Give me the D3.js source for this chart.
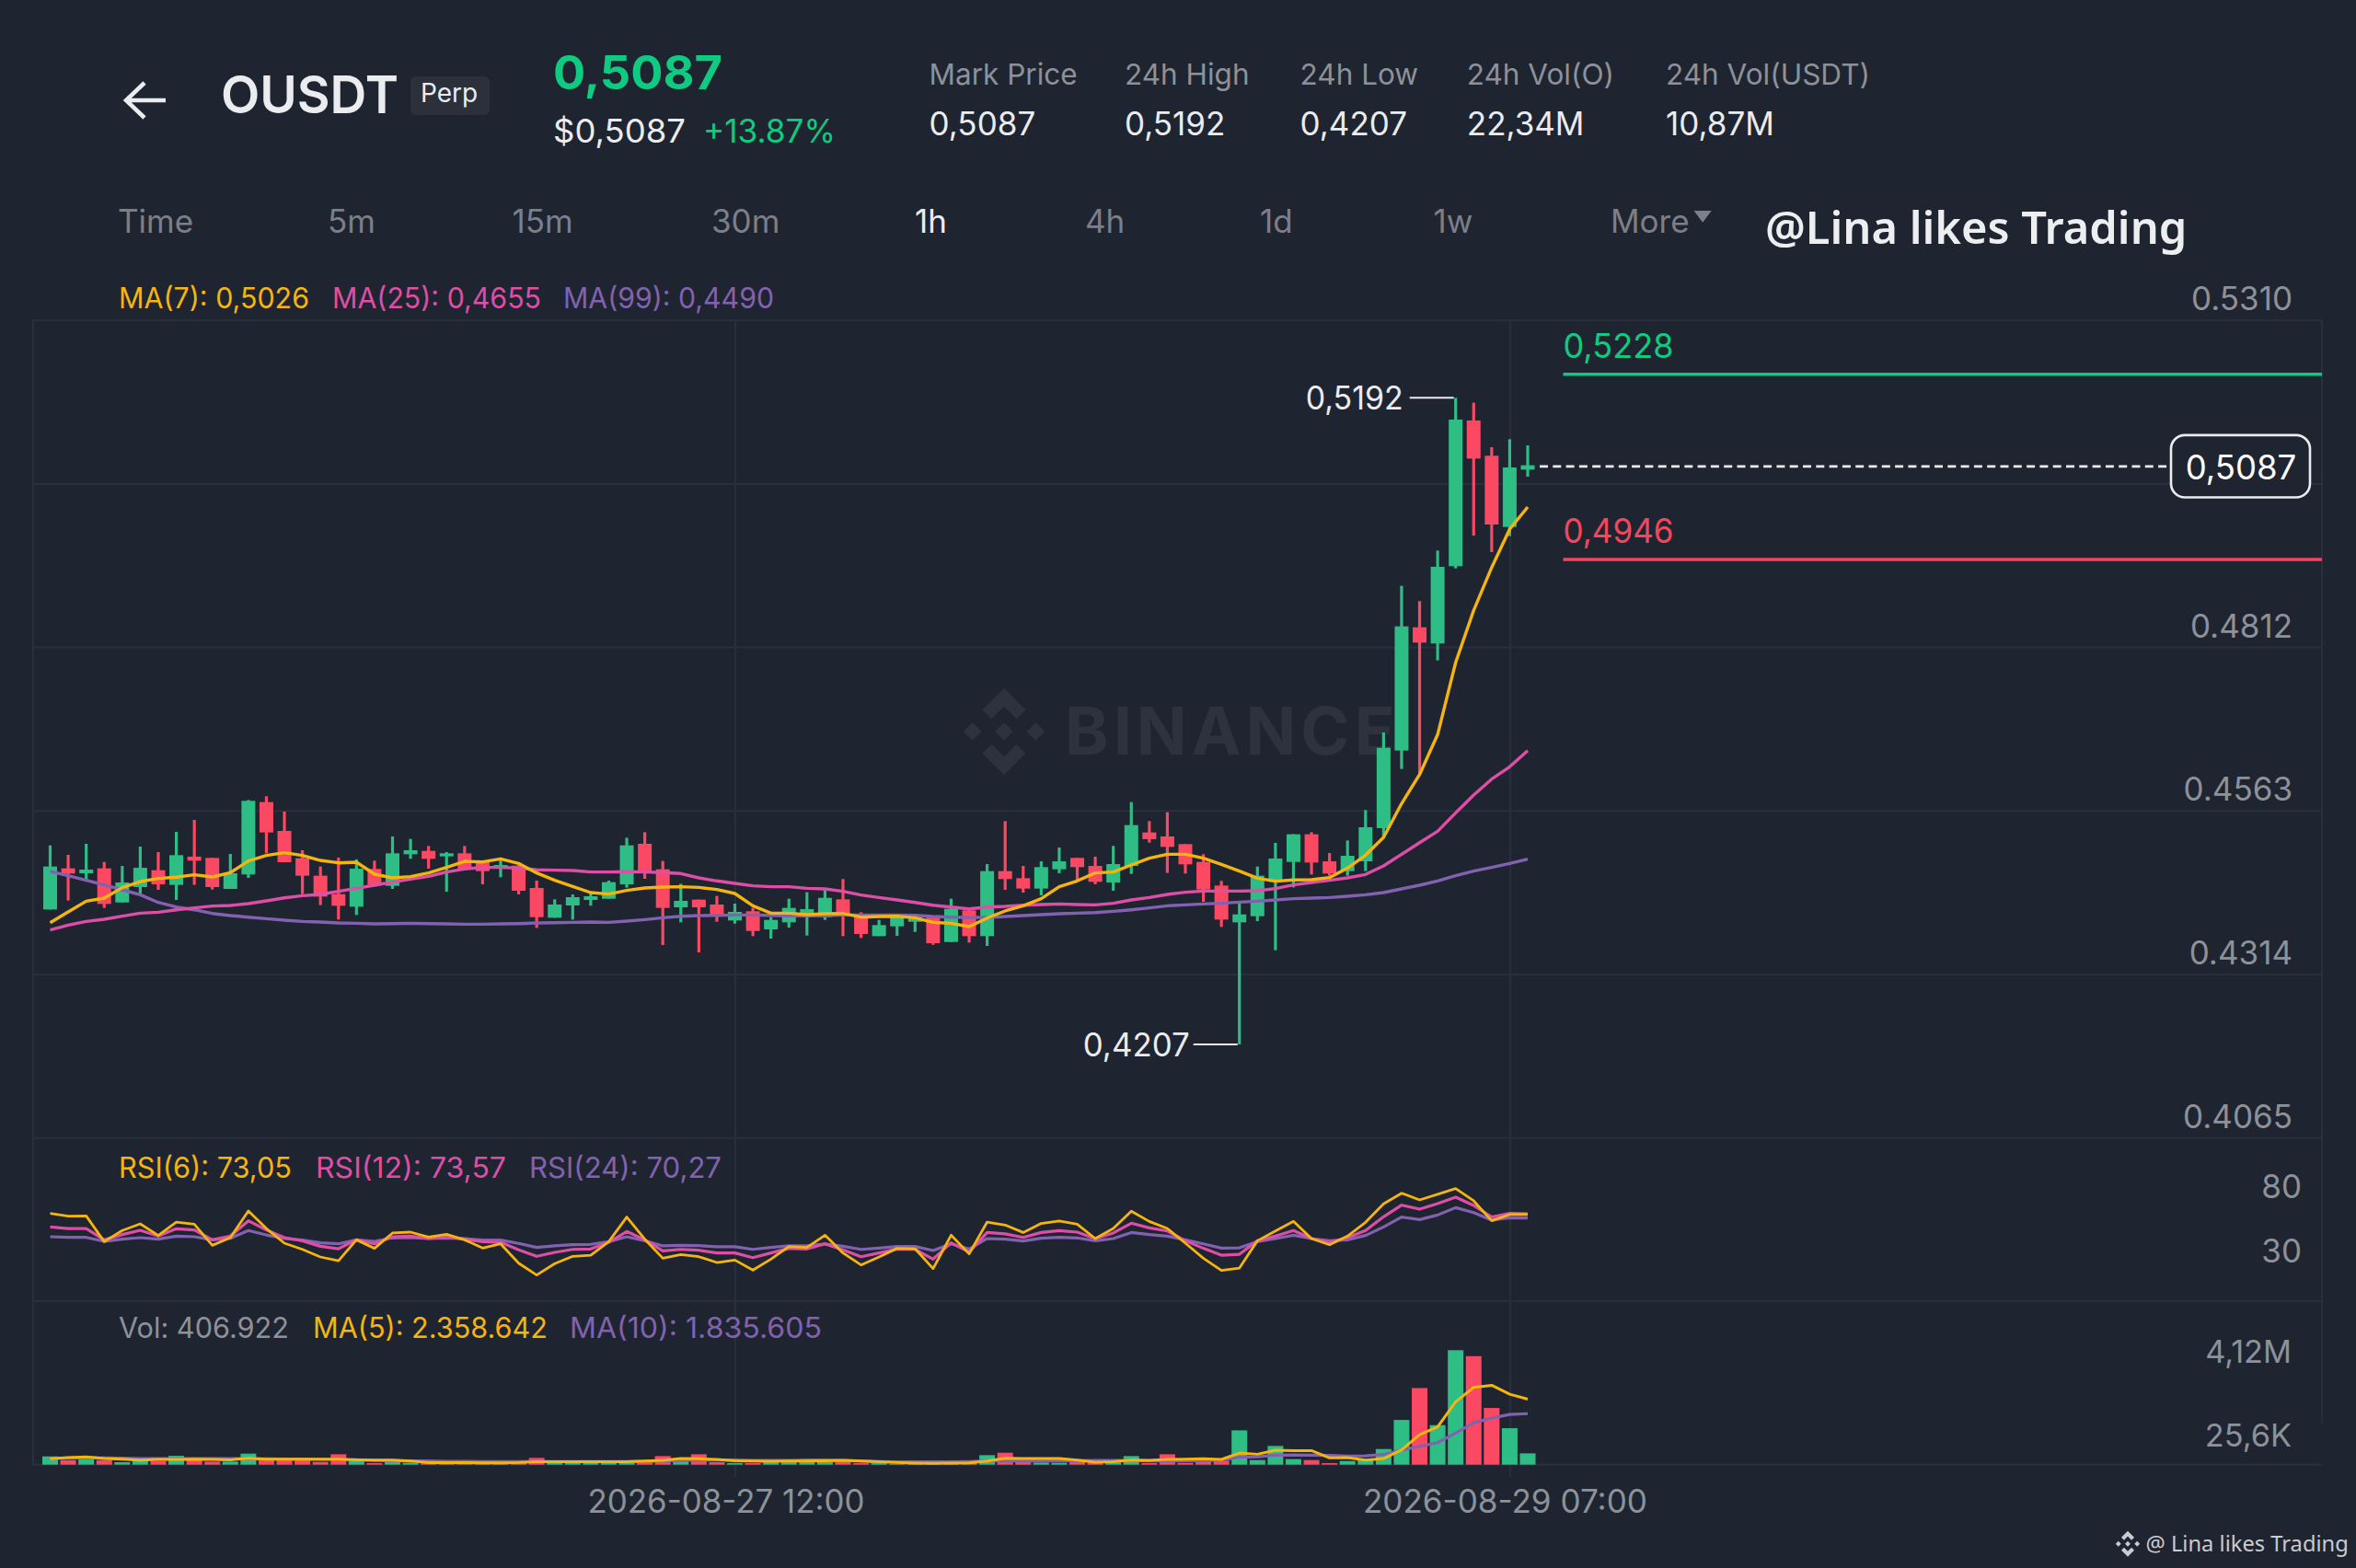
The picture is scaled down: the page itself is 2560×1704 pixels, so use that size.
<!DOCTYPE html>
<html>
<head>
<meta charset="utf-8">
<title>OUSDT Perp</title>
<script src="https://cdn.jsdelivr.net/npm/d3@7"></script>
<style>
  html, body { margin: 0; background: #1f2530; }
  svg { display: block; font-family: Inter, "Noto Sans", sans-serif; }
</style>
</head>
<body>
<div id="chart"></div>
<script>
/* candles, oldest first */
const opens = [0.44123,0.44749,0.44674,0.44749,0.44230,0.44464,0.44721,0.44497,0.44927,0.44908,0.44436,0.44656,0.45758,0.45319,0.44903,0.44637,0.44357,0.44165,0.44740,0.44483,0.44964,0.45015,0.44931,0.44978,0.44870,0.44777,0.44790,0.44450,0.43997,0.44184,0.44268,0.44287,0.44506,0.45123,0.44735,0.44156,0.44273,0.44198,0.43955,0.44095,0.43820,0.43927,0.44016,0.44006,0.44277,0.44030,0.43717,0.43866,0.43936,0.44006,0.43628,0.44109,0.43717,0.44707,0.44599,0.44441,0.44735,0.44908,0.44786,0.44534,0.44786,0.45296,0.45235,0.45118,0.44847,0.44487,0.43927,0.44020,0.44544,0.44847,0.45268,0.44856,0.44707,0.44856,0.45361,0.46543,0.48420,0.48173,0.49350,0.51569,0.51032,0.49948,0.50821];
const highs = [0.45099,0.44955,0.45123,0.44847,0.44786,0.45080,0.44997,0.45305,0.45487,0.44908,0.44969,0.45791,0.45847,0.45613,0.45025,0.44777,0.44913,0.44885,0.44866,0.45235,0.45197,0.45090,0.44997,0.45090,0.44870,0.44870,0.44800,0.44562,0.44277,0.44352,0.44380,0.44562,0.45216,0.45300,0.44861,0.44515,0.44273,0.44329,0.44212,0.44147,0.44006,0.44287,0.44385,0.44413,0.44586,0.44081,0.43964,0.44030,0.44053,0.44006,0.44287,0.44123,0.44814,0.45468,0.44786,0.44856,0.45067,0.44908,0.44927,0.45090,0.45758,0.45468,0.45604,0.45118,0.44964,0.44558,0.44217,0.44777,0.45137,0.45268,0.45300,0.44983,0.45174,0.45637,0.46818,0.49051,0.48818,0.49588,0.51914,0.51840,0.51162,0.51284,0.51190];
const lows = [0.44123,0.44259,0.44576,0.44147,0.44230,0.44333,0.44422,0.44268,0.44497,0.44427,0.44436,0.44604,0.44978,0.44842,0.44357,0.44189,0.43969,0.44039,0.44497,0.44436,0.44894,0.44744,0.44394,0.44744,0.44506,0.44614,0.44352,0.43843,0.43997,0.43969,0.44180,0.44287,0.44455,0.44590,0.43581,0.43927,0.43469,0.43936,0.43908,0.43717,0.43680,0.43848,0.43726,0.43964,0.43717,0.43689,0.43717,0.43721,0.43782,0.43586,0.43628,0.43619,0.43567,0.44422,0.44380,0.44338,0.44674,0.44567,0.44506,0.44408,0.44665,0.45141,0.44679,0.44670,0.44240,0.43857,0.42068,0.43946,0.43502,0.44459,0.44656,0.44637,0.44637,0.44707,0.45221,0.46262,0.46202,0.47916,0.49317,0.49817,0.49565,0.49808,0.50714];
const closes = [0.44777,0.44670,0.44730,0.44207,0.44534,0.44758,0.44506,0.44950,0.44866,0.44464,0.44674,0.45777,0.45296,0.44842,0.44637,0.44319,0.44179,0.44744,0.44497,0.44978,0.45025,0.44894,0.44978,0.44744,0.44707,0.44800,0.44408,0.44006,0.44198,0.44310,0.44324,0.44539,0.45099,0.44684,0.44147,0.44254,0.44156,0.44016,0.44086,0.43796,0.43964,0.44147,0.44128,0.44300,0.44025,0.43750,0.43885,0.44006,0.44006,0.43609,0.44133,0.43717,0.44707,0.44586,0.44441,0.44768,0.44856,0.44768,0.44544,0.44814,0.45408,0.45193,0.45076,0.44810,0.44427,0.43969,0.44048,0.44637,0.44899,0.45268,0.44838,0.44670,0.44940,0.45375,0.46585,0.48434,0.48187,0.49341,0.51583,0.50989,0.49985,0.50854,0.50887];

const ma7 = [0.43922,0.44086,0.44249,0.44296,0.44455,0.44548,0.44595,0.44614,0.44651,0.44618,0.44684,0.44861,0.44945,0.44987,0.44945,0.44870,0.44833,0.44842,0.44660,0.44604,0.44623,0.44679,0.44763,0.44856,0.44847,0.44894,0.44824,0.44679,0.44567,0.44473,0.44380,0.44357,0.44413,0.44450,0.44464,0.44469,0.44459,0.44427,0.44366,0.44179,0.44067,0.44067,0.44044,0.44058,0.44062,0.44006,0.44016,0.44020,0.43997,0.43927,0.43913,0.43862,0.43992,0.44100,0.44179,0.44287,0.44469,0.44558,0.44679,0.44693,0.44800,0.44903,0.44964,0.44964,0.44903,0.44810,0.44707,0.44600,0.44553,0.44572,0.44576,0.44609,0.44754,0.44950,0.45221,0.45735,0.46178,0.46786,0.47883,0.48677,0.49331,0.49915,0.50252];
const ma25 = [0.43810,0.43885,0.43941,0.43974,0.44020,0.44067,0.44081,0.44118,0.44147,0.44175,0.44184,0.44212,0.44254,0.44300,0.44333,0.44352,0.44399,0.44445,0.44492,0.44539,0.44586,0.44628,0.44693,0.44740,0.44763,0.44763,0.44754,0.44726,0.44721,0.44716,0.44693,0.44693,0.44698,0.44693,0.44684,0.44670,0.44604,0.44558,0.44520,0.44483,0.44469,0.44469,0.44445,0.44436,0.44399,0.44343,0.44305,0.44268,0.44230,0.44188,0.44160,0.44132,0.44160,0.44170,0.44188,0.44198,0.44207,0.44198,0.44193,0.44217,0.44268,0.44305,0.44352,0.44385,0.44403,0.44403,0.44403,0.44408,0.44441,0.44497,0.44534,0.44567,0.44604,0.44656,0.44786,0.44964,0.45141,0.45314,0.45594,0.45866,0.46108,0.46295,0.46543];
const ma99 = [0.44702,0.44637,0.44567,0.44497,0.44422,0.44347,0.44230,0.44160,0.44118,0.44062,0.44030,0.44006,0.43983,0.43960,0.43941,0.43932,0.43918,0.43913,0.43904,0.43908,0.43913,0.43908,0.43904,0.43899,0.43899,0.43904,0.43908,0.43918,0.43922,0.43927,0.43932,0.43927,0.43946,0.43969,0.43997,0.44020,0.44030,0.44034,0.44039,0.44039,0.44034,0.44025,0.44025,0.44030,0.44039,0.44039,0.44039,0.44039,0.44034,0.44016,0.44006,0.44002,0.44002,0.44016,0.44030,0.44044,0.44058,0.44067,0.44076,0.44095,0.44118,0.44147,0.44179,0.44193,0.44207,0.44217,0.44235,0.44249,0.44268,0.44287,0.44296,0.44305,0.44324,0.44347,0.44380,0.44436,0.44492,0.44558,0.44637,0.44707,0.44763,0.44824,0.44889];

const rsi6 = [73.8,71.7,71.9,51.9,60.5,65.7,56.7,67.1,65.5,49.0,55.0,75.7,62.1,50.7,45.9,40.0,37.1,53.3,46.7,58.6,59.3,55.5,57.6,53.3,46.9,50.2,35.2,26.0,34.8,40.5,41.4,51.9,71.0,53.8,39.0,41.9,40.2,35.7,37.6,29.8,38.3,48.1,47.4,56.9,43.1,33.8,40.0,46.7,46.4,31.0,56.9,42.4,67.1,64.8,59.0,66.0,67.9,65.5,54.3,62.1,75.5,67.6,62.1,50.7,39.0,29.5,31.4,52.6,60.2,67.6,54.3,49.5,56.2,66.9,81.2,89.5,84.3,88.6,93.1,83.6,68.1,72.9,73.05];
const rsi12 = [63.3,62.1,62.1,53.3,57.4,60.7,56.2,61.9,61.0,53.3,56.2,68.1,61.0,55.0,52.6,48.3,46.4,53.3,50.2,55.7,56.2,54.3,55.5,53.8,51.9,51.4,45.5,40.5,43.6,45.9,46.2,51.4,59.8,53.3,44.8,45.9,45.2,43.1,43.1,39.5,43.1,46.7,46.2,50.2,45.5,40.2,43.1,46.2,45.9,38.3,51.0,43.8,59.0,57.9,55.2,59.0,60.5,59.3,54.3,58.6,66.2,62.6,60.2,52.6,46.7,41.4,42.1,52.6,56.2,60.5,54.3,51.4,55.0,60.5,71.2,80.2,77.1,81.4,86.4,80.0,71.0,73.8,73.57];
const rsi24 = [55.7,55.2,55.2,52.1,53.8,55.0,53.8,56.2,55.7,53.3,54.5,60.5,57.1,54.3,53.1,51.0,50.2,53.3,52.1,54.8,55.0,54.3,54.8,54.3,53.1,53.1,50.5,47.4,48.6,49.5,49.8,51.9,55.7,52.6,48.6,49.0,48.8,47.9,47.9,45.9,47.4,48.6,48.6,50.2,48.3,45.9,46.9,48.1,48.1,45.0,50.2,46.2,54.3,53.8,52.4,54.5,55.2,54.8,52.6,54.3,59.0,57.4,56.2,53.3,50.2,46.9,47.1,51.9,54.3,56.9,54.3,52.6,53.3,56.7,63.3,71.0,69.0,72.6,78.3,74.5,68.6,70.5,70.27];

/* volume in thousands */
const volume = [298,165,199,165,88,165,132,320,165,110,110,397,165,176,176,99,375,132,55,132,66,88,55,66,55,44,66,243,66,66,66,66,66,110,309,132,375,88,55,55,88,88,88,99,110,55,55,33,22,22,33,77,342,430,110,77,66,99,77,88,309,55,375,66,132,143,1235,165,673,199,165,55,132,165,563,1610,2758,1423,4120,3905,2041,1313,406.922];
const volMa5 = [210,254,276,221,199,165,188,188,199,188,176,232,199,199,199,199,199,176,165,165,132,77,77,77,66,66,77,110,110,110,110,110,110,132,154,221,210,188,143,132,121,132,132,143,154,132,110,77,55,44,55,66,132,232,221,221,221,165,88,110,165,154,188,199,210,188,419,375,518,507,507,243,254,165,221,529,1081,1357,2261,2780,2857,2537,2358.642];
const volMa10 = [221,243,254,243,232,221,221,221,221,221,221,210,210,199,199,188,188,176,154,143,132,132,121,121,110,110,110,110,110,110,110,110,110,121,132,154,165,165,165,154,154,154,165,165,154,132,110,99,99,99,99,110,132,132,132,132,132,143,154,154,154,132,132,143,143,165,265,287,342,353,342,331,309,320,364,529,662,794,1136,1511,1677,1809,1835.605];

const priceTicks = [0.531, 0.5061, 0.4812, 0.4563, 0.4314, 0.4065];
const rsiTicks = [80, 30];
const volTicks = [4120, 25.6];
const volTickLabels = ["4,12M", "25,6K"];
const timeTicks = [38, 81];
const timeLabels = ["2026-08-27 12:00", "2026-08-29 07:00"];

const timeframes = ["Time", "5m", "15m", "30m", "1h", "4h", "1d", "1w", "More"];
const statNames = ["Mark Price", "24h High", "24h Low", "24h Vol(O)", "24h Vol(USDT)"];
const statValues = ["0,5087", "0,5192", "0,4207", "22,34M", "10,87M"];

const lastPrice = 0.5087;
const upperLevel = 0.5228;
const lowerLevel = 0.4946;
const dayHighIdx = 78;
const dayLowIdx = 66;

const BG = "#1f2530";
const GRID = "#2a303b";
const UP = "#2ebd85";
const DOWN = "#fb4863";
const UP_TEXT = "#0ecb81";
const DOWN_TEXT = "#f6465d";
const YELLOW = "#f5b50f";
const MAGENTA = "#dd4fa6";
const PURPLE = "#8262b0";
const MUTED = "#8d919a";
const DIM = "#7b7f88";
const LIGHT = "#eaecef";

const W = 2560, H = 1704;
const left = 36, right = 2523, gridBottom = 1605;

const svg = d3.select("#chart").append("svg")
  .attr("width", W).attr("height", H).attr("viewBox", `0 0 ${W} ${H}`);
svg.append("rect").attr("width", W).attr("height", H).attr("fill", BG);

const x = d3.scaleLinear().domain([0, 82]).range([54.5, 1660]);
const yPrice = d3.scaleLinear().domain([0.4065, 0.531]).range([1236.2, 347.7]);
const yRsi = d3.scaleLinear().domain([30, 80]).range([1380, 1310]);
const yVol = d3.scaleLinear().domain([0, 4120]).range([1591.7, 1467.3]);

function label(px, py, str, o = {}) {
  return svg.append("text")
    .attr("x", px).attr("y", py)
    .attr("font-size", o.size || 32)
    .attr("font-weight", o.weight || 400)
    .attr("font-family", o.family || null)
    .attr("text-anchor", o.anchor || "start")
    .attr("letter-spacing", o.spacing || null)
    // the original font is a little wider than Inter, pin the run widths
    .attr("textLength", o.width || null)
    .attr("lengthAdjust", o.width ? "spacingAndGlyphs" : null)
    .attr("fill", o.fill || LIGHT)
    .text(str);
}

// binance mark: two chevrons and three small diamonds, r = half height
function binanceMark(cx, cy, r, fill) {
  const diamond = (dx) => `M${dx - 0.21},0L${dx},-0.21L${dx + 0.21},0L${dx},0.21Z`;
  const chevron = (s) =>
    `M0,${-s}L${0.5},${-0.5 * s}L${0.29},${-0.29 * s}L0,${-0.58 * s}L${-0.29},${-0.29 * s}L${-0.5},${-0.5 * s}Z`;
  svg.append("path")
    .attr("d", chevron(1) + chevron(-1) + diamond(0) + diamond(-0.73) + diamond(0.73))
    .attr("transform", `translate(${cx},${cy}) scale(${r})`)
    .attr("fill", fill);
}

/* grid */
const priceAxis = svg.append("g")
  .attr("transform", `translate(${right},0)`)
  .call(d3.axisRight(yPrice).tickValues(priceTicks).tickSize(-(right - left))
    .tickFormat((d) => (d === 0.5061 ? "" : d3.format(".4f")(d))));
priceAxis.select(".domain").remove();
priceAxis.selectAll("line").attr("stroke", GRID).attr("stroke-width", 2);
priceAxis.selectAll("text")
  .attr("x", -32).attr("y", -11).attr("dy", 0)
  .attr("text-anchor", "end").attr("fill", MUTED).attr("font-size", 35).attr("font-family", "Inter");

const timeAxis = svg.append("g")
  .attr("transform", `translate(0,${gridBottom})`)
  .call(d3.axisBottom(x).tickValues(timeTicks).tickSize(-(gridBottom - yPrice(0.531)))
    .tickFormat((d) => timeLabels[timeTicks.indexOf(d)]));
timeAxis.select(".domain").remove();
timeAxis.selectAll("line").attr("stroke", GRID).attr("stroke-width", 2);
timeAxis.selectAll("text")
  .attr("y", 39).attr("dy", 0).attr("dx", (d, i) => (i === 0 ? -10 : -5.5))
  .attr("textLength", (d, i) => (i === 0 ? 301 : 309))
  .attr("lengthAdjust", "spacingAndGlyphs")
  .attr("fill", MUTED).attr("font-size", 35).attr("font-family", "Inter");

svg.selectAll("line.frame").data([left, right]).join("line")
  .attr("class", "frame")
  .attr("x1", (d) => d).attr("x2", (d) => d)
  .attr("y1", yPrice(0.531)).attr("y2", (d) => (d === left ? 1591.7 : 1547))
  .attr("stroke", GRID).attr("stroke-width", 2);
svg.selectAll("line.sep").data([1414, 1591.7]).join("line")
  .attr("class", "sep")
  .attr("x1", left).attr("x2", right)
  .attr("y1", (d) => d).attr("y2", (d) => d)
  .attr("stroke", GRID).attr("stroke-width", 2);

/* watermark */
binanceMark(1091, 795, 47, "#2d323e");
label(1157, 820, "BINANCE", { size: 72, weight: 700, fill: "#2d323e", spacing: 5 });

/* candles */
const idx = d3.range(opens.length);
const colorOf = (i) => (closes[i] >= opens[i] ? UP : DOWN);

svg.append("g").selectAll("line").data(idx).join("line")
  .attr("x1", (i) => x(i)).attr("x2", (i) => x(i))
  .attr("y1", (i) => yPrice(highs[i])).attr("y2", (i) => yPrice(lows[i]))
  .attr("stroke", colorOf).attr("stroke-width", 3.2);
svg.append("g").selectAll("rect").data(idx).join("rect")
  .attr("x", (i) => x(i) - 7.5).attr("width", 15)
  .attr("y", (i) => yPrice(Math.max(opens[i], closes[i])))
  .attr("height", (i) => Math.max(2, Math.abs(yPrice(opens[i]) - yPrice(closes[i]))))
  .attr("fill", colorOf);

function seriesLine(values, scale, color, width) {
  const line = d3.line().x((d, i) => x(i)).y((d) => scale(d));
  svg.append("path").datum(values)
    .attr("d", line).attr("fill", "none")
    .attr("stroke", color).attr("stroke-width", width)
    .attr("stroke-linejoin", "round");
}

seriesLine(ma99, yPrice, PURPLE, 3.4);
seriesLine(ma25, yPrice, MAGENTA, 3.4);
seriesLine(ma7, yPrice, YELLOW, 3.4);

/* rsi */
seriesLine(rsi24, yRsi, PURPLE, 3.2);
seriesLine(rsi12, yRsi, MAGENTA, 3.2);
seriesLine(rsi6, yRsi, YELLOW, 2.8);

const rsiAxis = svg.append("g")
  .attr("transform", `translate(${right},0)`)
  .call(d3.axisRight(yRsi).tickValues(rsiTicks).tickSize(0));
rsiAxis.select(".domain").remove();
rsiAxis.selectAll("text")
  .attr("x", -22).attr("y", -9).attr("dy", 0)
  .attr("text-anchor", "end").attr("fill", MUTED).attr("font-size", 35).attr("font-family", "Inter");

/* volume */
svg.append("g").selectAll("rect").data(idx).join("rect")
  .attr("x", (i) => x(i) - 8.5).attr("width", 17)
  .attr("y", (i) => yVol(volume[i]))
  .attr("height", (i) => yVol(0) - yVol(volume[i]))
  .attr("fill", colorOf);
seriesLine(volMa10, yVol, PURPLE, 3.2);
seriesLine(volMa5, yVol, YELLOW, 3);

const volAxis = svg.append("g")
  .attr("transform", `translate(${right},0)`)
  .call(d3.axisRight(yVol).tickValues(volTicks).tickSize(0)
    .tickFormat((d, i) => volTickLabels[i]));
volAxis.select(".domain").remove();
volAxis.selectAll("text")
  .attr("x", -33).attr("y", (d, i) => (i === 0 ? 12.7 : -19)).attr("dy", 0)
  .attr("text-anchor", "end").attr("fill", MUTED).attr("font-size", 34.3).attr("font-family", "Inter");

/* price levels */
svg.append("line")
  .attr("x1", 1673).attr("x2", 2359)
  .attr("y1", yPrice(lastPrice)).attr("y2", yPrice(lastPrice))
  .attr("stroke", LIGHT).attr("stroke-width", 2.6).attr("stroke-dasharray", "9 5.3");
svg.append("rect")
  .attr("x", 2359).attr("y", yPrice(lastPrice) - 34).attr("width", 151).attr("height", 67.6)
  .attr("rx", 15).attr("fill", BG).attr("stroke", LIGHT).attr("stroke-width", 2.6);
label(2435, 521, "0,5087", { size: 36.5, anchor: "middle", fill: "#ffffff" });

[[upperLevel, "0,5228", UP_TEXT], [lowerLevel, "0,4946", DOWN_TEXT]].forEach(([lvl, txt, col]) => {
  svg.append("line")
    .attr("x1", 1698.5).attr("x2", right)
    .attr("y1", yPrice(lvl) + 0.5).attr("y2", yPrice(lvl) + 0.5)
    .attr("stroke", col).attr("stroke-width", 3.4);
  label(1698.5, yPrice(lvl) - 17, txt, { size: 36.5, fill: col, width: 120 });
});

/* day high / low marks */
[[dayHighIdx, highs[dayHighIdx], "0,5192", 57, 106], [dayLowIdx, lows[dayLowIdx], "0,4207", 54, 116]].forEach(([i, p, txt, gap, w]) => {
  const px = x(i), py = yPrice(p);
  svg.append("line")
    .attr("x1", px - 50).attr("x2", px - 2)
    .attr("y1", py).attr("y2", py)
    .attr("stroke", LIGHT).attr("stroke-width", 2);
  label(px - gap, py + 13, txt, { size: 35, anchor: "end", width: w });
});

/* legends */
label(129, 335, "MA(7): 0,5026", { size: 31, fill: YELLOW, width: 207 });
label(361, 335, "MA(25): 0,4655", { size: 31, fill: MAGENTA, width: 227 });
label(612, 335, "MA(99): 0,4490", { size: 31, fill: PURPLE, width: 229 });
label(129, 1280, "RSI(6): 73,05", { size: 31, fill: YELLOW, width: 188 });
label(343, 1280, "RSI(12): 73,57", { size: 31, fill: MAGENTA, width: 207 });
label(575, 1280, "RSI(24): 70,27", { size: 31, fill: PURPLE, width: 209 });
label(129, 1454, "Vol: 406.922", { size: 31, fill: MUTED, width: 185 });
label(340, 1454, "MA(5): 2.358.642", { size: 31, fill: YELLOW, width: 255 });
label(619, 1454, "MA(10): 1.835.605", { size: 31, fill: PURPLE, width: 274 });

/* header */
svg.append("path")
  .attr("d", "M180,109H138M157,90L137,109L157,128")
  .attr("fill", "none").attr("stroke", LIGHT).attr("stroke-width", 4.5);
label(240, 123, "OUSDT", { size: 56, weight: 600, width: 193 });
svg.append("rect").attr("x", 446).attr("y", 83).attr("width", 86).attr("height", 42)
  .attr("rx", 6).attr("fill", "#2b303b");
label(457, 111, "Perp", { size: 28 });
label(601, 97, "0,5087", { size: 51, weight: 700, fill: UP_TEXT, width: 184 });
label(601, 155, "$0,5087", { size: 35.5, width: 144 });
label(764, 155, "+13.87%", { size: 35, fill: UP_TEXT, width: 144 });

const statX = [1009.6, 1222, 1412.6, 1593.8, 1810];
statNames.forEach((s, i) => {
  label(statX[i], 91.5, s, { size: 31.5, fill: MUTED });
  label(statX[i], 147, statValues[i], { size: 35 });
});

const tfX = [128, 356, 556.5, 773, 994, 1179, 1369, 1557.5, 1750];
timeframes.forEach((s, i) => {
  label(tfX[i], 252.5, s, { size: 35, fill: s === "1h" ? LIGHT : DIM });
});
svg.append("path").attr("d", "M1840.6,229H1859.7L1850.1,241.7Z").attr("fill", DIM);

label(1918, 265, "@Lina likes Trading", { size: 48.8, weight: 600, family: "Noto Sans", fill: "#eceef0" });

binanceMark(2312, 1677.7, 14, "#c9cbd1");
label(2331.5, 1686, "@ Lina likes Trading", { size: 23.7, family: "Noto Sans", fill: "#c9cbd1" });
</script>
</body>
</html>
